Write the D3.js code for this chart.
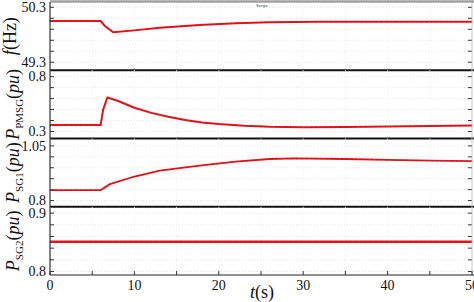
<!DOCTYPE html>
<html>
<head>
<meta charset="UTF-8">
<script src="https://d3js.org/d3.v7.min.js"></script>
<style>
  body { margin: 0; background: #fff; }
  svg { display: block; font-family: "Liberation Serif", "DejaVu Serif", serif; }
  .tick-label { font-size: 14px; fill: #111; }
  .ytitle { font-size: 18px; fill: #111; }
</style>
</head>
<body>
<div id="chart"></div>
<script>
// values
const xTicks = [0, 10, 20, 30, 40, 50];
const xMinor = [5, 15, 25, 35, 45];

const tF   = [0, 6, 6.5, 7.5, 10, 13, 17.7, 22, 26, 32, 40, 50];
const fHz  = [50.05, 50.05, 49.96, 49.845, 49.88, 49.93, 49.98, 50.01, 50.03, 50.035, 50.035, 50.035];

const tPMSG = [0, 6, 6.3, 6.8, 8, 10, 12, 14, 16, 18, 20, 23, 26, 30, 35, 40, 45, 50];
const pPMSG = [0.36, 0.36, 0.5, 0.61, 0.58, 0.517, 0.47, 0.435, 0.405, 0.383, 0.368, 0.352, 0.343, 0.338, 0.34, 0.345, 0.35, 0.355];

const tSG1 = [0, 6, 7.1, 10, 13, 17.7, 22, 26, 29, 35, 40, 45, 50];
const pSG1 = [0.848, 0.848, 0.875, 0.91, 0.937, 0.96, 0.978, 0.99, 0.993, 0.99, 0.986, 0.983, 0.98];

const tSG2 = [0, 10, 20, 30, 40, 50];
const pSG2 = [0.851, 0.851, 0.851, 0.851, 0.851, 0.851];

const panels = [
  { t: tF, v: fHz, lo: 49.3, hi: 50.3, step: 0.2, labels: ["49.3", "50.3"], title: "f", sub: null, unit: "(Hz)" },
  { t: tPMSG, v: pPMSG, lo: 0.3, hi: 0.8, step: 0.1, labels: ["0.3", "0.8"], title: "P", sub: "PMSG", unit: "pu" },
  { t: tSG1, v: pSG1, lo: 0.8, hi: 1.05, step: 0.05, labels: ["0.8", "1.05"], title: "P", sub: "SG1", unit: "pu" },
  { t: tSG2, v: pSG2, lo: 0.8, hi: 0.9, step: 0.02, labels: ["0.8", "0.9"], title: "P", sub: "SG2", unit: "pu" }
];

const W = 474, H = 302;
const plotL = 50, plotR = 472, plotT = 2, plotB = 275;
const ph = (plotB - plotT) / panels.length;
const pads = [[5.3, 8], [6.4, 7], [7.4, 6.2], [6.4, 3.5]];
const strokeW = [2, 2, 1.8, 2.6];

const svg = d3.select("#chart").append("svg")
  .attr("width", W)
  .attr("height", H);

const x = d3.scaleLinear().domain([0, 50]).range([plotL, plotR]);

panels.forEach((p, i) => {
  const y0 = plotT + i * ph, y1 = y0 + ph;
  const y = d3.scaleLinear().domain([p.lo, p.hi]).range([y1 - pads[i][1], y0 + pads[i][0]]);
  const g = svg.append("g");

  const nSteps = Math.round((p.hi - p.lo) / p.step);
  const ticks = d3.range(0, nSteps + 1).map(k => p.lo + k * p.step);

  // faint dotted grid
  g.selectAll(".hgrid").data(ticks).enter().append("line")
    .attr("x1", plotL).attr("x2", plotR)
    .attr("y1", d => y(d)).attr("y2", d => y(d))
    .attr("stroke", "#e4e4e4").attr("stroke-dasharray", "1,2");
  g.selectAll(".vgrid").data(xTicks.concat(xMinor)).enter().append("line")
    .attr("x1", d => x(d)).attr("x2", d => x(d))
    .attr("y1", y0).attr("y2", y1)
    .attr("stroke", "#efefef").attr("stroke-dasharray", "1,2");

  // inward ticks on left and right
  g.selectAll(".lt").data(ticks).enter().append("line")
    .attr("x1", plotL).attr("x2", plotL + 4)
    .attr("y1", d => y(d)).attr("y2", d => y(d))
    .attr("stroke", "#333");
  g.selectAll(".rt").data(ticks).enter().append("line")
    .attr("x1", plotR).attr("x2", plotR - 4)
    .attr("y1", d => y(d)).attr("y2", d => y(d))
    .attr("stroke", "#333");

  g.selectAll(".yl").data([p.lo, p.hi]).enter().append("text")
    .attr("class", "tick-label")
    .attr("x", plotL - 4)
    .attr("y", d => y(d))
    .attr("dy", "0.33em")
    .attr("text-anchor", "end")
    .text((d, k) => p.labels[k]);

  // data line
  const pts = p.t.map((t, k) => [t, p.v[k]]);
  const line = d3.line().x(d => x(d[0])).y(d => y(d[1]));
  g.append("path")
    .datum(pts)
    .attr("fill", "none")
    .attr("stroke", "#e8141c")
    .attr("stroke-width", strokeW[i])
    .attr("d", line);
  g.append("path")
    .datum(pts)
    .attr("fill", "none")
    .attr("stroke", "#b80c14")
    .attr("stroke-width", 0.6)
    .attr("stroke-dasharray", "2,3")
    .attr("d", line);

  // y title
  const cy = (y0 + y1) / 2;
  const tt = svg.append("text")
    .attr("class", "ytitle")
    .attr("transform", `translate(${p.sub ? 19 : 16},${cy}) rotate(-90)`)
    .attr("text-anchor", "middle");
  tt.append("tspan").attr("font-style", "italic").text(p.title);
  if (p.sub) {
    tt.append("tspan").attr("font-size", "11px").attr("dy", 4).text(p.sub);
    tt.append("tspan").attr("dy", -4).text("(");
    tt.append("tspan").attr("font-style", "italic").text(p.unit);
    tt.append("tspan").text(")");
  } else {
    tt.append("tspan").text(p.unit);
  }

  // separator under panel
  if (i < panels.length - 1) {
    svg.append("line")
      .attr("x1", plotL).attr("x2", plotR + 2)
      .attr("y1", y1).attr("y2", y1)
      .attr("stroke", "#111").attr("stroke-width", 2);
  }
});

// frame
svg.append("line").attr("x1", plotL).attr("x2", plotR + 2).attr("y1", plotT - 0.5).attr("y2", plotT - 0.5)
  .attr("stroke", "#a0a0a0").attr("stroke-width", 2.5);
svg.append("line").attr("x1", plotL).attr("x2", plotL).attr("y1", plotT).attr("y2", plotB)
  .attr("stroke", "#333").attr("stroke-width", 1.2);
svg.append("line").attr("x1", plotR).attr("x2", plotR).attr("y1", plotT).attr("y2", plotB)
  .attr("stroke", "#bbb").attr("stroke-width", 0.8);

// bottom axis
const xAxis = svg.append("g").attr("transform", `translate(0,${plotB})`);
xAxis.append("line").attr("x1", plotL).attr("x2", plotR + 2).attr("stroke", "#222").attr("stroke-width", 1.2);
xAxis.selectAll(".mt").data(xTicks.concat(xMinor)).enter().append("line")
  .attr("x1", d => x(d)).attr("x2", d => x(d))
  .attr("y1", 0).attr("y2", -4)
  .attr("stroke", "#333");
xAxis.selectAll(".xl").data(xTicks).enter().append("text")
  .attr("class", "tick-label")
  .attr("x", d => x(d))
  .attr("y", 15)
  .attr("text-anchor", "middle")
  .text(d => d);

const xt = svg.append("text")
  .attr("class", "ytitle")
  .attr("x", 262).attr("y", 298)
  .attr("text-anchor", "middle");
xt.append("tspan").attr("font-style", "italic").text("t");
xt.append("tspan").text("(s)");

// tiny scope caption at the top
svg.append("text")
  .attr("x", 262).attr("y", 7)
  .attr("text-anchor", "middle")
  .attr("font-size", "5px")
  .attr("fill", "#444")
  .text("Scope");
</script>
</body>
</html>
